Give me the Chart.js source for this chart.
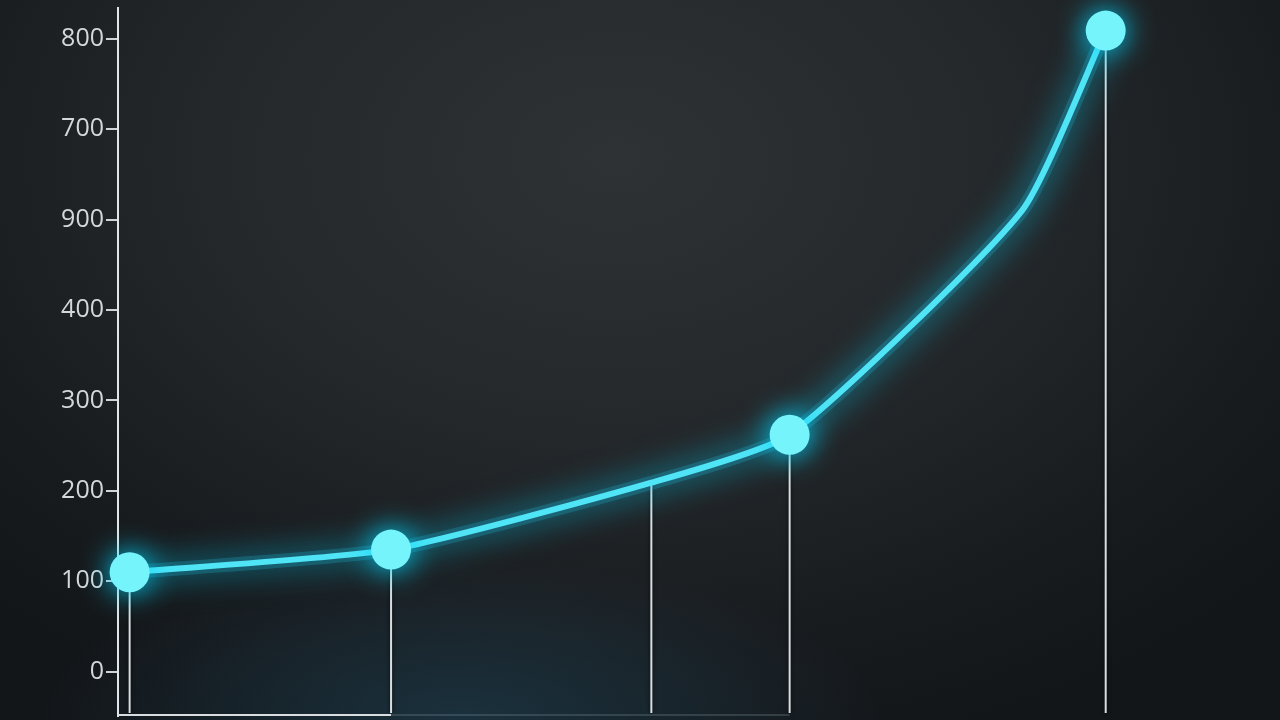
<!DOCTYPE html>
<html>
<head>
<meta charset="utf-8">
<script src="https://cdn.jsdelivr.net/npm/chart.js@4/dist/chart.umd.min.js"></script>
<style>
  html, body { margin: 0; padding: 0; }
  body {
    width: 1280px; height: 720px; overflow: hidden;
    background:
      radial-gradient(ellipse 420px 160px at 36% 100%, rgba(35, 95, 125, 0.35), rgba(35, 95, 125, 0) 100%),
      radial-gradient(ellipse 900px 620px at 48% 22%, #2e3235 0%, #24282b 45%, #181b1e 80%, #131619 100%);
  }
  #wrap { position: absolute; left: 0; top: 0; width: 1280px; height: 720px; }
</style>
</head>
<body>
<div id="wrap"><canvas id="myChart"></canvas></div>
<script>
// x positions of the points (arbitrary units along the axis)
const xValues = [1.0, 23.5, 45.9, 57.8, 77.8, 85.0];
// values of the glowing line
const yValues = [110, 135, 209, 262, 510, 709];
// which points get a round marker / a drop line
const hasMarker = [true, true, false, true, false, true];
const hasDrop = [true, true, true, true, false, true];
// y tick positions and the labels printed next to them
const tickValues = [0, 100, 200, 300, 400, 500, 600, 700];
const tickLabels = ['0', '100', '200', '300', '400', '900', '700', '800'];

const points = xValues.map((x, i) => ({ x: x, y: yValues[i] }));

// glow on the line and markers
const glowPlugin = {
  id: 'glow',
  beforeDatasetDraw(chart, args) {
    const ctx = chart.ctx;
    ctx.save();
    ctx.shadowColor = 'rgba(0, 215, 255, 1)';
    ctx.shadowBlur = args.index === 0 ? 40 : 30;
  },
  afterDatasetDraw(chart) {
    chart.ctx.restore();
  }
};

// drop lines from the points and the short bottom axis line
const dropPlugin = {
  id: 'drops',
  beforeDatasetsDraw(chart) {
    const ctx = chart.ctx;
    const xs = chart.scales.x;
    const ys = chart.scales.y;
    const bottom = chart.chartArea.bottom;
    ctx.save();
    ctx.strokeStyle = '#d9dde0';
    ctx.lineWidth = 2;
    ctx.shadowColor = 'rgba(0,0,0,0.8)';
    ctx.shadowBlur = 4;
    points.forEach((p, i) => {
      if (!hasDrop[i]) return;
      const px = xs.getPixelForValue(p.x);
      ctx.beginPath();
      ctx.moveTo(px, ys.getPixelForValue(p.y));
      ctx.lineTo(px, bottom - 3);
      ctx.stroke();
    });
    // bottom axis line, bright up to the second point, then faint
    const left = chart.chartArea.left;
    const mid = xs.getPixelForValue(xValues[1]);
    ctx.shadowBlur = 0;
    ctx.beginPath();
    ctx.moveTo(left, bottom - 1);
    ctx.lineTo(mid, bottom - 1);
    ctx.stroke();
    ctx.strokeStyle = 'rgba(120,140,150,0.3)';
    ctx.beginPath();
    ctx.moveTo(mid, bottom - 1);
    ctx.lineTo(xs.getPixelForValue(xValues[3]), bottom - 1);
    ctx.stroke();
    ctx.restore();
  }
};

const ctx = document.getElementById('myChart').getContext('2d');
new Chart(ctx, {
  type: 'line',
  data: {
    datasets: [{
      // soft halo under the line
      data: points,
      borderColor: 'rgba(40, 200, 240, 0.22)',
      borderWidth: 14,
      tension: 0.18,
      pointRadius: 0,
      clip: false,
      order: 2
    }, {
      data: points,
      borderColor: '#4fe4f6',
      borderWidth: 6,
      tension: 0.18,
      pointRadius: hasMarker.map(m => (m ? 20 : 0)),
      pointBackgroundColor: '#76f4fc',
      pointBorderWidth: 0,
      clip: false,
      order: 1
    }]
  },
  options: {
    responsive: true,
    maintainAspectRatio: false,
    animation: false,
    events: [],
    layout: { autoPadding: false, padding: { top: 8, right: 0, bottom: 4, left: 0 } },
    plugins: { legend: { display: false }, tooltip: { enabled: false } },
    scales: {
      x: {
        type: 'linear',
        display: false,
        min: 0,
        max: 100
      },
      y: {
        type: 'linear',
        min: -49,
        max: 734,
        afterFit(scale) {
          scale.width = 118;
          scale.paddingTop = 0;
          scale.paddingBottom = 0;
        },
        afterBuildTicks(scale) {
          scale.ticks = tickValues.map(v => ({ value: v }));
        },
        grid: {
          drawOnChartArea: false,
          drawTicks: true,
          tickLength: 12,
          color: '#cfd4d6',
          lineWidth: 2
        },
        border: { display: true, color: '#e2e5e7', width: 2 },
        ticks: {
          padding: 2,
          color: '#d4d8da',
          font: { family: 'Open Sans', size: 25 },
          callback: function(value) {
            const i = tickValues.indexOf(value);
            return i >= 0 ? tickLabels[i] : '';
          }
        }
      }
    }
  },
  plugins: [glowPlugin, dropPlugin]
});
</script>
</body>
</html>
